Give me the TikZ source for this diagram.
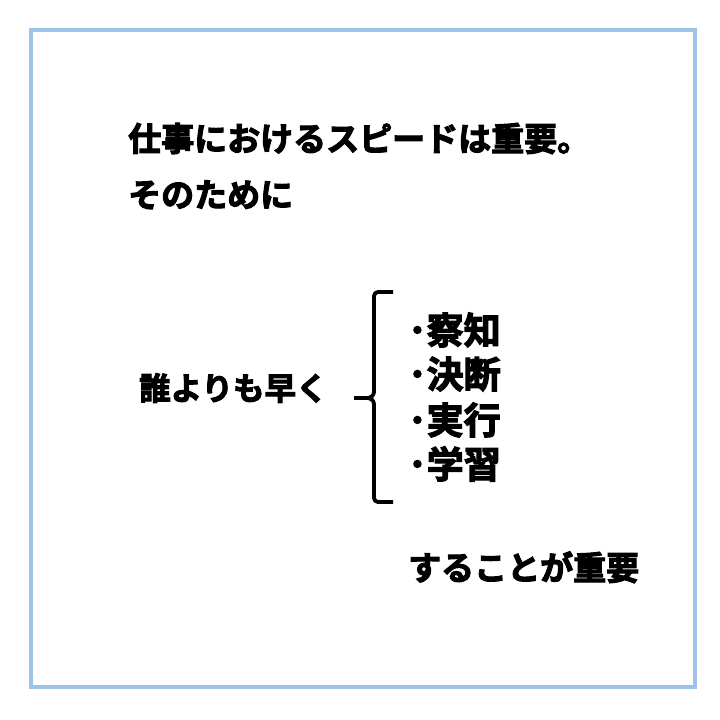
\documentclass[tikz,border=0pt]{standalone}
\usepackage{fontspec}
\newfontfamily\jpb[FakeBold=3.2]{Noto Sans CJK JP Bold}
\begin{document}
\begin{tikzpicture}[x=1pt,y=-1pt,
  txt/.style={inner sep=0pt,anchor=base west,font=\jpb},
  brace/.style={line width=3.8pt,line join=round}]
\useasboundingbox (0,0) rectangle (720,720);
\fill[white] (0,0) rectangle (720,720);
\draw[line width=4pt,color={rgb,255:red,157;green,195;blue,230}] (31,30) rectangle (695,687);
\node[txt,font=\jpb\fontsize{33}{33}\selectfont] (t1) at (128,151) {仕事におけるスピードは重要。};
\node[txt,font=\jpb\fontsize{33}{33}\selectfont] (t2) at (128,207) {そのために};
\node[txt,font=\jpb\fontsize{31.5}{31.5}\selectfont] (q) at (139,400) {誰よりも早く};
\node[txt,font=\jpb\fontsize{37}{37}\selectfont] (b1) at (408,344) {･察知};
\node[txt,font=\jpb\fontsize{37}{37}\selectfont] (b2) at (408,388) {･決断};
\node[txt,font=\jpb\fontsize{37}{37}\selectfont] (b3) at (408,434) {･実行};
\node[txt,font=\jpb\fontsize{37}{37}\selectfont] (b4) at (408,478) {･学習};
\node[txt,font=\jpb\fontsize{33}{33}\selectfont] (e) at (408,580) {することが重要};
\coordinate (bt) at (393,292);
\coordinate (bb) at (393,502);
\coordinate (bm) at (354,398);
\draw[brace] (bt) -- (378,292) to[out=180,in=90] (374,296) -- (374,392) to[out=-90,in=0] (367,398) -- (bm);
\draw[brace] (bm) -- (367,398) to[out=0,in=90] (374,404) -- (374,498) to[out=-90,in=180] (378,502) -- (bb);
\end{tikzpicture}
\end{document}
